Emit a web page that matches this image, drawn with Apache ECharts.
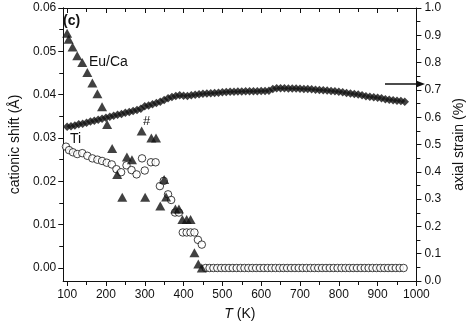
<!DOCTYPE html>
<html>
<head>
<meta charset="utf-8">
<script src="https://cdn.jsdelivr.net/npm/echarts@6/dist/echarts.min.js"></script>
<style>
  html, body { margin: 0; padding: 0; background: #fff; }
  #chart { width: 474px; height: 327px; }
</style>
</head>
<body>
<div id="chart"></div>
<script>
// Temperature (K) and cationic shift (Å) of the Eu/Ca site
const euT = [100, 104, 114, 126, 139, 152, 165, 178, 190, 203, 216, 229, 242, 254, 267, 292, 301, 317, 329, 340, 350, 355, 379, 388, 397, 408, 418, 428, 438, 447];
const euShift = [0.0542, 0.0528, 0.0510, 0.0490, 0.0474, 0.0451, 0.0427, 0.0402, 0.0372, 0.0331, 0.0276, 0.0216, 0.0163, 0.0256, 0.0250, 0.0316, 0.0163, 0.0300, 0.0300, 0.0143, 0.0204, 0.0164, 0.0136, 0.0136, 0.0112, 0.0112, 0.0112, 0.0035, 0.0009, 0.0000];

// Temperature (K) and cationic shift (Å) of the Ti site
const tiT = [97, 105, 115, 126, 139, 152, 165, 178, 190, 202, 215, 227, 239, 253, 266, 279, 293, 300, 316, 328, 339, 349, 360, 368, 378, 388, 398, 408, 418, 428, 437, 447,
  457, 467, 477, 487, 497, 507, 517, 527, 537, 547, 557, 567, 577, 587, 597, 607, 617, 627, 637, 647, 657, 667, 677, 687, 697, 707, 717, 727, 737, 747, 757, 767, 777, 787, 797, 807, 817, 827, 837, 847, 857, 867, 877, 887, 897, 907, 917, 927, 937, 947, 957, 967];
const tiShift = [0.0280, 0.0272, 0.0267, 0.0263, 0.0265, 0.0259, 0.0253, 0.0250, 0.0247, 0.0243, 0.0239, 0.0228, 0.0221, 0.0237, 0.0226, 0.0216, 0.0253, 0.0225, 0.0244, 0.0244, 0.0189, 0.0201, 0.0170, 0.0157, 0.0128, 0.0128, 0.0082, 0.0082, 0.0082, 0.0082, 0.0065, 0.0054,
  0, 0, 0, 0, 0, 0, 0, 0, 0, 0, 0, 0, 0, 0, 0, 0, 0, 0, 0, 0, 0, 0, 0, 0, 0, 0, 0, 0, 0, 0, 0, 0, 0, 0, 0, 0, 0, 0, 0, 0, 0, 0, 0, 0, 0, 0, 0, 0, 0, 0, 0, 0];

// Temperature (K) and axial strain (%)
const strainT = [100, 110, 120, 130, 140, 150, 160, 170, 180, 190, 200, 210, 220, 230, 240, 250, 260, 270, 280, 290,
  300, 310, 320, 330, 340, 350, 360, 370, 380, 390, 400, 410, 420, 430, 440, 450, 460, 470, 480, 490,
  500, 510, 520, 530, 540, 550, 560, 570, 580, 590, 600, 610, 620, 630, 640, 650, 660, 670, 680, 690,
  700, 710, 720, 730, 740, 750, 760, 770, 780, 790, 800, 810, 820, 830, 840, 850, 860, 870, 880, 890,
  900, 910, 920, 930, 940, 950, 960, 970];
const strain = [0.565, 0.567, 0.570, 0.574, 0.576, 0.580, 0.584, 0.587, 0.591, 0.594, 0.598, 0.602, 0.605, 0.609, 0.612, 0.616, 0.619, 0.623, 0.626, 0.631,
  0.640, 0.643, 0.647, 0.652, 0.657, 0.663, 0.669, 0.674, 0.678, 0.680, 0.679, 0.678, 0.680, 0.682, 0.684, 0.686, 0.687, 0.688, 0.689, 0.690,
  0.691, 0.692, 0.693, 0.693, 0.694, 0.694, 0.695, 0.695, 0.695, 0.695, 0.696, 0.696, 0.697, 0.703, 0.706, 0.706, 0.706, 0.705, 0.705, 0.705,
  0.704, 0.703, 0.703, 0.702, 0.701, 0.700, 0.699, 0.698, 0.696, 0.695, 0.693, 0.691, 0.689, 0.687, 0.685, 0.683, 0.680, 0.677, 0.675, 0.673,
  0.671, 0.669, 0.666, 0.664, 0.662, 0.660, 0.659, 0.657];

// Tick positions
const tTicks = [100, 200, 300, 400, 500, 600, 700, 800, 900, 1000];
const tMinorTicks = [150, 250, 350, 450, 550, 650, 750, 850, 950];
const shiftTicks = [0, 0.01, 0.02, 0.03, 0.04, 0.05, 0.06];
const shiftMinorTicks = [0.005, 0.015, 0.025, 0.035, 0.045, 0.055];

const pair = (xs, ys) => xs.map((x, i) => [x, ys[i]]);

const FONT = 'Liberation Sans, Arial, sans-serif';
const INK = '#111';
const T_MIN = 90, T_MAX = 1000;
const S_MIN = -0.003, S_MAX = 0.06;

const lineOn = { show: true, onZero: false, lineStyle: { color: INK, width: 1 } };

const baseAxis = {
  type: 'value',
  splitLine: { show: false },
  axisLine: { show: false, onZero: false },
  axisLabel: { show: false },
  axisTick: { show: false }
};

const chart = echarts.init(document.getElementById('chart'), null, { renderer: 'canvas' });

chart.setOption({
  animation: false,
  backgroundColor: '#fff',
  grid: { left: 57, right: 47, top: 8, bottom: 46, containLabel: false },
  xAxis: [
    Object.assign({}, baseAxis, {
      position: 'bottom', min: T_MIN, max: T_MAX,
      axisLine: lineOn,
      axisTick: { show: true, inside: false, length: 5, customValues: tTicks, lineStyle: { color: INK } },
      axisLabel: { show: true, customValues: tTicks, margin: 8, color: INK, fontFamily: FONT, fontSize: 12,
        formatter: v => String(v) },
      name: '{i|T} (K)', nameLocation: 'middle', nameGap: 26,
      nameTextStyle: { color: INK, fontFamily: FONT, fontSize: 14, rich: { i: { fontStyle: 'italic', fontFamily: FONT, fontSize: 14, color: INK } } }
    }),
    Object.assign({}, baseAxis, {
      position: 'bottom', min: T_MIN, max: T_MAX,
      axisLine: lineOn,
      axisTick: { show: true, inside: false, length: 4, customValues: tMinorTicks, lineStyle: { color: INK } }
    }),
    Object.assign({}, baseAxis, {
      position: 'top', min: T_MIN, max: T_MAX,
      axisLine: lineOn,
      axisTick: { show: true, inside: true, length: 5, customValues: tTicks, lineStyle: { color: INK } }
    }),
    Object.assign({}, baseAxis, {
      position: 'top', min: T_MIN, max: T_MAX,
      axisLine: lineOn,
      axisTick: { show: true, inside: true, length: 4, customValues: tMinorTicks, lineStyle: { color: INK } }
    })
  ],
  yAxis: [
    Object.assign({}, baseAxis, {
      position: 'left', min: S_MIN, max: S_MAX,
      axisLine: lineOn,
      axisTick: { show: true, inside: false, length: 5, customValues: shiftTicks, lineStyle: { color: INK } },
      axisLabel: { show: true, customValues: shiftTicks, margin: 7, color: INK, fontFamily: FONT, fontSize: 12,
        formatter: v => v.toFixed(2) },
      name: 'cationic shift (Å)', nameLocation: 'middle', nameGap: 40, nameRotate: 90,
      nameTextStyle: { color: INK, fontFamily: FONT, fontSize: 14 }
    }),
    Object.assign({}, baseAxis, {
      position: 'left', min: S_MIN, max: S_MAX,
      axisLine: lineOn,
      axisTick: { show: true, inside: false, length: 4, customValues: shiftMinorTicks, lineStyle: { color: INK } }
    }),
    Object.assign({}, baseAxis, {
      position: 'right', min: 0, max: 1.0, interval: 0.1,
      axisLine: lineOn,
      axisTick: { show: true, inside: false, length: 5, lineStyle: { color: INK } },
      minorTick: { show: true, splitNumber: 2, length: 4, lineStyle: { color: INK } },
      minorSplitLine: { show: false },
      axisLabel: { show: true, margin: 8, color: INK, fontFamily: FONT, fontSize: 12, formatter: v => v.toFixed(1) },
      name: 'axial strain (%)', nameLocation: 'middle', nameGap: 35, nameRotate: 90,
      nameTextStyle: { color: INK, fontFamily: FONT, fontSize: 14 }
    })
  ],
  series: [
    {
      name: 'Eu/Ca', type: 'scatter', xAxisIndex: 0, yAxisIndex: 0,
      symbol: 'triangle', symbolSize: [10, 9],
      itemStyle: { color: INK },
      data: pair(euT, euShift), z: 3
    },
    {
      name: 'Ti', type: 'scatter', xAxisIndex: 0, yAxisIndex: 0,
      symbol: 'circle', symbolSize: 7.5,
      itemStyle: { color: '#fff', borderColor: INK, borderWidth: 1 },
      data: pair(tiT, tiShift), z: 2
    },
    {
      name: 'axial strain', type: 'scatter', xAxisIndex: 0, yAxisIndex: 2,
      symbol: 'diamond', symbolSize: [8.5, 8.5],
      itemStyle: { color: INK },
      data: pair(strainT, strain), z: 4
    }
  ],
  graphic: [
    { type: 'text', left: 63, top: 14, style: { text: '(c)', font: 'bold 14px ' + FONT, fill: INK } },
    { type: 'text', left: 89, top: 55, style: { text: 'Eu/Ca', font: '14px ' + FONT, fill: INK } },
    { type: 'text', left: 70, top: 132, style: { text: 'Ti', font: '14px ' + FONT, fill: INK } },
    { type: 'text', left: 143, top: 115, style: { text: '#', font: '13px ' + FONT, fill: INK } },
    { type: 'line', shape: { x1: 385, y1: 84, x2: 418, y2: 84 }, style: { stroke: INK, lineWidth: 1.5 } },
    { type: 'polygon', shape: { points: [[425, 84], [416, 80.5], [416, 87.5]] }, style: { fill: INK } }
  ]
});
</script>
</body>
</html>
